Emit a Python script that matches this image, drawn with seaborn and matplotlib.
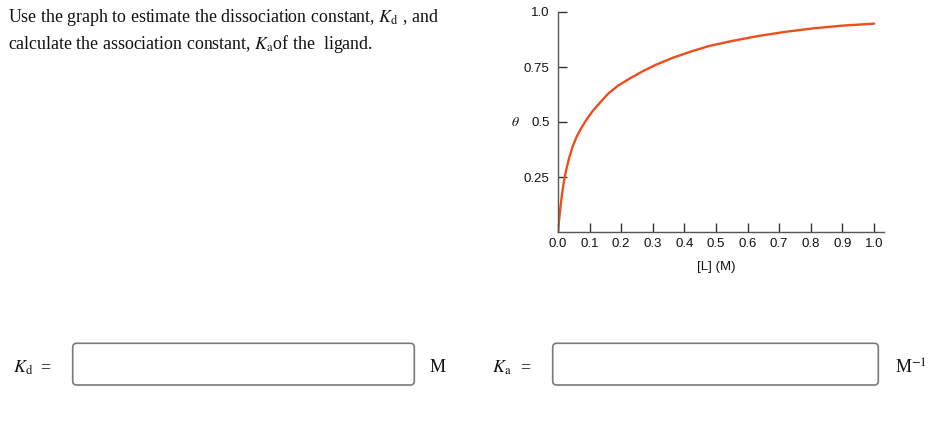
import matplotlib
matplotlib.use("Agg")
import matplotlib.pyplot as plt
from matplotlib.patches import FancyBboxPatch
from matplotlib.transforms import IdentityTransform
import seaborn as sns
import pandas as pd

# ---- data ----
ligand_M = [0, 0.003, 0.007, 0.012, 0.018, 0.025, 0.035, 0.047, 0.06, 0.075,
            0.09, 0.11, 0.13, 0.16, 0.19, 0.23, 0.27, 0.31, 0.36, 0.42,
            0.48, 0.55, 0.63, 0.72, 0.81, 0.90, 1.0]
theta = [0, 0.045, 0.10, 0.16, 0.22, 0.275, 0.333, 0.39, 0.435, 0.475,
         0.51, 0.55, 0.583, 0.63, 0.665, 0.70, 0.732, 0.76, 0.79, 0.82,
         0.846, 0.868, 0.89, 0.91, 0.926, 0.938, 0.947]
x_ticks = [0.0, 0.1, 0.2, 0.3, 0.4, 0.5, 0.6, 0.7, 0.8, 0.9, 1.0]
x_tick_labels = ["0.0", "0.1", "0.2", "0.3", "0.4", "0.5", "0.6", "0.7", "0.8", "0.9", "1.0"]
y_ticks = [0.25, 0.5, 0.75, 1.0]
y_tick_labels = ["0.25", "0.5", "0.75", "1.0"]
x_label = "[L] (M)"
y_label = r"$\theta$"
question_line1 = r"Use the graph to estimate the dissociation constant, $K_{\mathrm{d}}$ , and"
question_line2 = r"calculate the association constant, $K_{\mathrm{a}}$of the  ligand."

sns.set_theme(style="white")
plt.rcParams["font.family"] = ["Liberation Sans", "DejaVu Sans"]
plt.rcParams["mathtext.fontset"] = "stix"

W, H = 945, 422
fig = plt.figure(figsize=(W / 100, H / 100), dpi=100)
fig.patch.set_facecolor("white")

# axes placement (pixels): x0=558, y0=232 (from top), width 326, height 220
ax = fig.add_axes([557.9 / W, 1 - 232 / H, 326 / W, 220 / H])
df = pd.DataFrame({"L": ligand_M, "theta": theta})
sns.lineplot(data=df, x="L", y="theta", ax=ax, color="#EE4E1C", linewidth=1.7)

ax.set_xlim(0, 1.0313)
ax.set_ylim(0, 1.0)
for s in ["top", "right"]:
    ax.spines[s].set_visible(False)
for s in ["left", "bottom"]:
    ax.spines[s].set_color("#555555")
    ax.spines[s].set_linewidth(1.0)

ax.set_xticks(x_ticks)
ax.set_xticklabels(x_tick_labels)
ax.set_yticks(y_ticks)
ax.set_yticklabels(y_tick_labels)
ax.tick_params(axis="both", direction="in", length=6.5, width=1.0, color="#333333",
               labelsize=9.5, labelcolor="#111111", bottom=True, left=True)
ax.tick_params(axis="x", pad=4)
ax.tick_params(axis="y", pad=6)

ax.set_xlabel(x_label, fontsize=9.5, color="#111111")
ax.xaxis.set_label_coords(0.485, -0.158)
ax.xaxis.label.set_va("center")
ax.set_ylabel(y_label, fontsize=10, rotation=0, color="#111111")
ax.yaxis.set_label_coords(-0.13, 0.5)
ax.yaxis.label.set_va("center")
ax.yaxis.label.set_ha("center")

# ---- question text ----
serif = ["Liberation Serif", "DejaVu Serif"]
fig.text(8 / W, 1 - 17 / H, question_line1, family=serif, fontsize=12.9,
         va="center", ha="left", color="#111111")
fig.text(8 / W, 1 - 44 / H, question_line2, family=serif, fontsize=12.9,
         va="center", ha="left", color="#111111")

# ---- answer row ----
row_y = 1 - 368 / H
txt = dict(family=serif, fontsize=13, va="center", color="#111111")
fig.text(12.7 / W, row_y, r"$K_{\mathrm{d}}$", ha="left", **txt)
fig.text(50.7 / W, row_y, "=", ha="right", **txt)
fig.text(430 / W, row_y, "M", ha="left", **txt)
fig.text(491.7 / W, row_y, r"$K_{\mathrm{a}}$", ha="left", **txt)
fig.text(530 / W, row_y, "=", ha="right", **txt)
fig.text(895 / W, row_y, r"M$^{-1}$", ha="left", **txt)

for x0, x1 in [(72.7, 414.3), (552.7, 878.3)]:
    box = FancyBboxPatch((x0, H - 385), x1 - x0, 385 - 343.3,
                         boxstyle="round,pad=0,rounding_size=4",
                         transform=IdentityTransform(), facecolor="white",
                         edgecolor="#7a7a7a", linewidth=1.2)
    fig.add_artist(box)

fig.savefig("out.png", dpi=100)
